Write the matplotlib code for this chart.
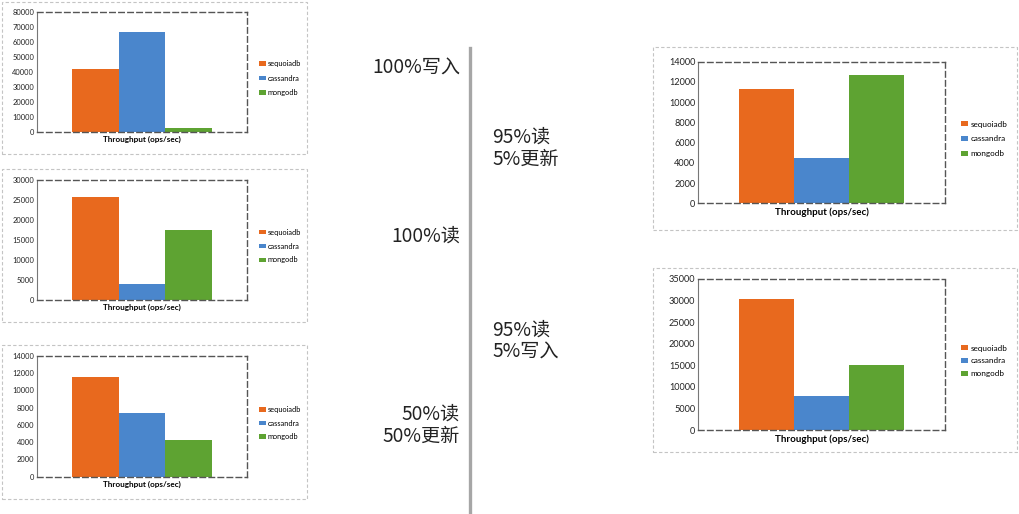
import matplotlib
matplotlib.use("Agg")
import matplotlib.pyplot as plt
from matplotlib.patches import Rectangle, Patch
from matplotlib.lines import Line2D

W, H = 1020, 514

series = ["sequoiadb", "cassandra", "mongodb"]
colors = ["#E8691E", "#4A86CC", "#5EA332"]

# values per workload panel (ops/sec)
write100 = [42000, 66700, 2500]
read100 = [25700, 4100, 17400]
read50_update50 = [11600, 7400, 4300]
read95_update5 = [11300, 4500, 12650]
read95_insert5 = [30400, 7900, 15000]

xlabel = "Throughput (ops/sec)"

plt.rcParams['font.family'] = ['Lato', 'DejaVu Sans']

fig = plt.figure(figsize=(W / 100, H / 100), dpi=100)
fig.patch.set_facecolor("white")


def fx(x):
    return x / W


def fy(y):
    return 1 - y / H


def panel(frame, axbox, vals, ymax, step, legx, legy, tick_fs, leg_fs, lab_fs):
    x0, y0, x1, y1 = frame
    fig.add_artist(Rectangle((fx(x0), fy(y1)), fx(x1 - x0), (y1 - y0) / H,
                             transform=fig.transFigure, fill=False,
                             edgecolor="#c4c4c4", lw=0.8, linestyle=(0, (3, 2))))
    a0, b0, a1, b1 = axbox
    ax = fig.add_axes([fx(a0), fy(b1), fx(a1 - a0), (b1 - b0) / H])
    xs = [-1, 0, 1]
    for xi, v, c in zip(xs, vals, colors):
        ax.bar(xi, v, width=1.0, color=c, zorder=2)
    ax.set_xlim(-2.25, 2.25)
    ax.set_ylim(0, ymax)
    ax.set_yticks(range(0, ymax + 1, step))
    ax.set_xticks([])
    ax.tick_params(axis="y", labelsize=tick_fs, length=0, pad=2, colors="#222222")
    for s in ["top", "right", "bottom"]:
        ax.spines[s].set_linestyle((0, (4, 2.5)))
        ax.spines[s].set_color("#555555")
        ax.spines[s].set_linewidth(1.0)
    ax.spines["left"].set_color("#777777")
    ax.spines["left"].set_linewidth(0.8)
    ax.set_xlabel(xlabel, fontsize=lab_fs, fontweight="bold", labelpad=3)
    handles = [Patch(facecolor=c, label=s) for c, s in zip(colors, series)]
    lh = legy[1] - legy[0]
    fs_px = leg_fs * 100 / 72
    ax.figure.legend(handles=handles, loc="center left",
                     bbox_to_anchor=(fx(legx), fy(legy[1])),
                     frameon=False, fontsize=leg_fs,
                     handlelength=0.9, handleheight=0.6, handletextpad=0.3,
                     labelspacing=(lh - fs_px) / fs_px, borderpad=0, borderaxespad=0)
    return ax


panel((2, 2, 307, 154), (37, 11.7, 247, 132), write100, 80000, 10000,
      259, [63, 78, 93], 5.4, 5.3, 5.9)
panel((2, 169, 307, 322), (37, 180, 247, 300), read100, 30000, 5000,
      259, [231.7, 246, 260.7], 5.4, 5.3, 5.9)
panel((2, 345, 307, 499), (37, 356, 247, 476.7), read50_update50, 14000, 2000,
      259, [409, 423, 437.7], 5.4, 5.3, 5.9)
panel((653, 47, 1017, 230), (698, 61.7, 945, 203.3), read95_update5, 14000, 2000,
      961, [123, 139, 154], 6.6, 5.9, 7.0)
panel((653, 268, 1017, 452), (698, 278.7, 945, 430.3), read95_insert5, 35000, 5000,
      961, [347, 361, 375], 6.6, 5.9, 7.0)

# divider
fig.add_artist(Line2D([fx(470), fx(470)], [fy(48), fy(514)], transform=fig.transFigure,
                      color="#a6a6a6", lw=2.4))

cjk = ['Noto Sans CJK SC', 'DejaVu Sans']
tkw = dict(fontsize=13.8, family=cjk, color="#222222", linespacing=1.1)
fig.text(fx(460), fy(68), "100%写入", ha="right", va="center", **tkw)
fig.text(fx(460), fy(236), "100%读", ha="right", va="center", **tkw)
fig.text(fx(460), fy(425), "50%读\n50%更新", ha="right", va="center", multialignment="right", **tkw)
fig.text(fx(492), fy(148), "95%读\n5%更新", ha="left", va="center", **tkw)
fig.text(fx(492), fy(341), "95%读\n5%写入", ha="left", va="center", **tkw)

fig.savefig("out.png", dpi=100, facecolor="white")
